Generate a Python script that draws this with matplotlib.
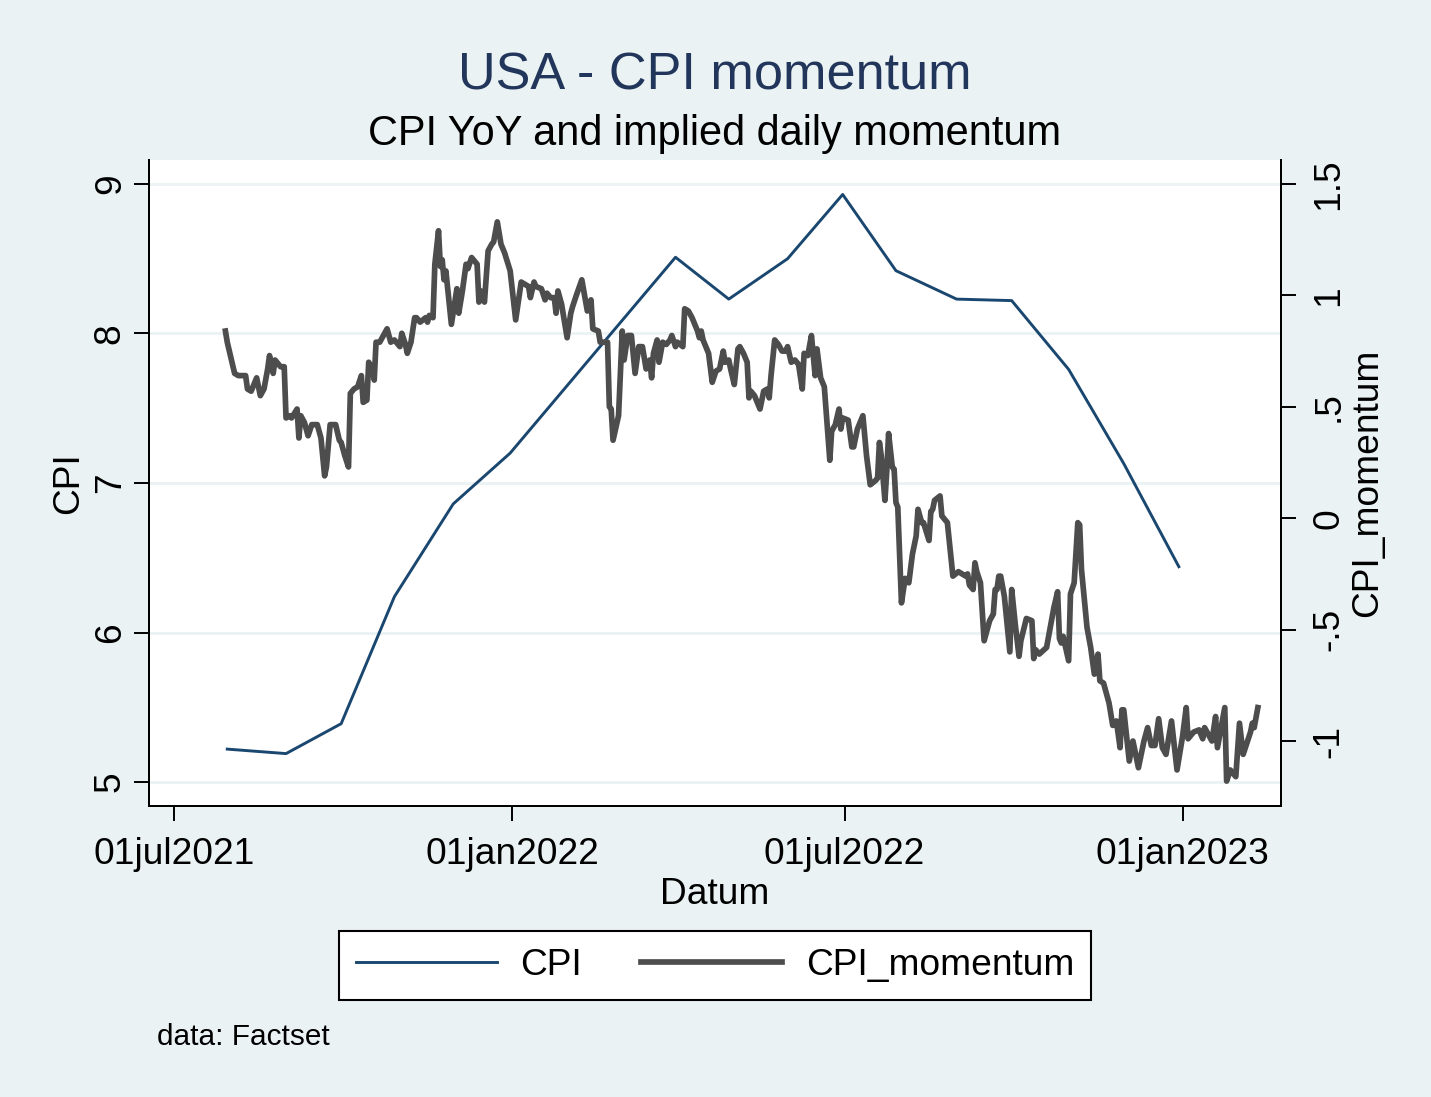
import datetime as dt

import matplotlib.pyplot as plt
import pandas as pd
from matplotlib.lines import Line2D

# Data
cpi_dates = ['2021-07-30', '2021-08-31', '2021-09-30', '2021-10-29', '2021-11-30',
             '2021-12-31', '2022-03-31', '2022-04-29', '2022-05-31', '2022-06-30',
             '2022-07-29', '2022-08-31', '2022-09-30', '2022-10-31', '2022-11-30',
             '2022-12-30']
cpi_values = [5.22, 5.19, 5.39, 6.24, 6.86, 7.20, 8.51, 8.23, 8.50, 8.93,
              8.42, 8.23, 8.22, 7.76, 7.13, 6.44]

mom_dates = [
    '2021-07-29', '2021-07-30', '2021-08-01', '2021-08-03', '2021-08-05', '2021-08-09',
    '2021-08-10', '2021-08-12', '2021-08-13', '2021-08-15', '2021-08-17', '2021-08-19',
    '2021-08-21', '2021-08-22', '2021-08-24', '2021-08-25', '2021-08-27', '2021-08-28',
    '2021-08-30', '2021-08-31', '2021-09-02', '2021-09-03', '2021-09-06', '2021-09-07',
    '2021-09-08', '2021-09-10', '2021-09-12', '2021-09-14', '2021-09-17', '2021-09-19',
    '2021-09-21', '2021-09-22', '2021-09-24', '2021-09-27', '2021-09-29', '2021-09-30',
    '2021-10-02', '2021-10-04', '2021-10-05', '2021-10-07', '2021-10-09', '2021-10-11',
    '2021-10-12', '2021-10-14', '2021-10-15', '2021-10-17', '2021-10-18', '2021-10-19',
    '2021-10-21', '2021-10-25', '2021-10-27', '2021-10-29', '2021-10-31', '2021-11-01',
    '2021-11-02', '2021-11-04', '2021-11-05', '2021-11-07', '2021-11-09', '2021-11-10',
    '2021-11-12', '2021-11-15', '2021-11-16', '2021-11-17', '2021-11-19', '2021-11-20',
    '2021-11-22', '2021-11-23', '2021-11-24', '2021-11-25', '2021-11-26', '2021-11-29',
    '2021-12-02', '2021-12-03', '2021-12-05', '2021-12-07', '2021-12-08', '2021-12-10',
    '2021-12-13', '2021-12-14', '2021-12-15', '2021-12-17', '2021-12-19', '2021-12-21',
    '2021-12-22', '2021-12-24', '2021-12-26', '2021-12-28', '2021-12-31',
    '2022-01-03', '2022-01-06', '2022-01-08', '2022-01-10', '2022-01-11', '2022-01-13',
    '2022-01-14', '2022-01-17', '2022-01-19', '2022-01-20', '2022-01-22', '2022-01-24',
    '2022-01-25', '2022-01-26', '2022-01-28', '2022-01-29', '2022-01-31', '2022-02-02',
    '2022-02-03', '2022-02-05', '2022-02-08', '2022-02-11', '2022-02-13', '2022-02-14',
    '2022-02-17', '2022-02-18', '2022-02-22', '2022-02-23', '2022-02-24', '2022-02-25',
    '2022-02-28', '2022-03-02', '2022-03-03', '2022-03-05', '2022-03-07', '2022-03-09',
    '2022-03-11', '2022-03-13', '2022-03-15', '2022-03-17', '2022-03-18', '2022-03-19',
    '2022-03-21', '2022-03-22', '2022-03-24', '2022-03-26', '2022-03-28', '2022-03-29',
    '2022-03-31', '2022-04-01', '2022-04-04', '2022-04-05', '2022-04-07', '2022-04-09',
    '2022-04-12', '2022-04-13', '2022-04-14', '2022-04-15', '2022-04-18', '2022-04-20',
    '2022-04-22', '2022-04-24', '2022-04-26', '2022-04-27', '2022-04-29', '2022-04-30',
    '2022-05-02', '2022-05-04', '2022-05-05', '2022-05-07', '2022-05-09', '2022-05-10',
    '2022-05-11', '2022-05-13', '2022-05-16', '2022-05-18', '2022-05-20', '2022-05-21',
    '2022-05-22', '2022-05-24', '2022-05-26', '2022-05-28', '2022-05-30', '2022-05-31',
    '2022-06-02', '2022-06-04', '2022-06-06', '2022-06-08', '2022-06-09', '2022-06-11',
    '2022-06-13', '2022-06-15', '2022-06-16', '2022-06-18', '2022-06-20', '2022-06-23',
    '2022-06-24', '2022-06-26', '2022-06-28', '2022-06-29', '2022-06-30', '2022-07-03',
    '2022-07-05', '2022-07-06', '2022-07-08', '2022-07-11', '2022-07-13', '2022-07-15',
    '2022-07-18', '2022-07-19', '2022-07-20', '2022-07-21', '2022-07-23', '2022-07-24',
    '2022-07-25', '2022-07-27', '2022-07-28', '2022-07-29', '2022-07-30', '2022-08-01',
    '2022-08-03', '2022-08-05', '2022-08-07', '2022-08-09', '2022-08-10', '2022-08-12',
    '2022-08-13', '2022-08-16', '2022-08-17', '2022-08-18', '2022-08-19', '2022-08-22',
    '2022-08-23', '2022-08-26', '2022-08-29', '2022-09-01', '2022-09-05', '2022-09-06',
    '2022-09-07', '2022-09-09', '2022-09-10', '2022-09-11', '2022-09-13', '2022-09-15',
    '2022-09-18', '2022-09-20', '2022-09-21', '2022-09-22', '2022-09-23', '2022-09-24',
    '2022-09-26', '2022-09-29', '2022-09-30', '2022-10-02', '2022-10-04', '2022-10-05',
    '2022-10-08', '2022-10-11', '2022-10-12', '2022-10-13', '2022-10-15', '2022-10-19',
    '2022-10-23', '2022-10-25', '2022-10-26', '2022-10-27', '2022-10-28', '2022-10-31',
    '2022-11-01', '2022-11-03', '2022-11-05', '2022-11-06', '2022-11-07', '2022-11-10',
    '2022-11-12', '2022-11-14', '2022-11-16', '2022-11-17', '2022-11-19', '2022-11-22',
    '2022-11-23', '2022-11-24', '2022-11-26', '2022-11-28', '2022-11-29', '2022-11-30',
    '2022-12-03', '2022-12-05', '2022-12-08', '2022-12-11', '2022-12-13', '2022-12-15',
    '2022-12-17', '2022-12-19', '2022-12-21', '2022-12-23', '2022-12-26', '2022-12-29',
    '2023-01-01', '2023-01-03', '2023-01-04', '2023-01-07', '2023-01-10', '2023-01-12',
    '2023-01-13', '2023-01-15', '2023-01-17', '2023-01-19', '2023-01-20', '2023-01-22',
    '2023-01-24', '2023-01-25', '2023-01-27', '2023-01-30', '2023-02-01', '2023-02-03',
    '2023-02-07', '2023-02-08', '2023-02-09', '2023-02-11',
]
mom_values = [
    0.84, 0.79, 0.72, 0.65, 0.64, 0.64,
    0.58, 0.57, 0.59, 0.63, 0.55, 0.58,
    0.67, 0.73, 0.65, 0.71, 0.69, 0.68,
    0.68, 0.45, 0.46, 0.45, 0.49, 0.36,
    0.46, 0.43, 0.37, 0.42, 0.42, 0.36,
    0.19, 0.23, 0.42, 0.42, 0.35, 0.34,
    0.28, 0.23, 0.56, 0.58, 0.59, 0.64,
    0.52, 0.53, 0.70, 0.67, 0.62, 0.79,
    0.79, 0.85, 0.79, 0.80, 0.78, 0.77,
    0.83, 0.78, 0.74, 0.79, 0.90, 0.90,
    0.88, 0.90, 0.88, 0.91, 0.90, 1.14,
    1.29, 1.13, 1.16, 1.07, 1.11, 0.87,
    1.03, 0.92, 1.02, 1.14, 1.12, 1.17,
    1.14, 0.97, 1.02, 0.97, 1.20, 1.23,
    1.24, 1.33, 1.23, 1.19, 1.11,
    0.89, 1.06, 1.05, 1.04, 0.99, 1.06,
    1.04, 1.03, 0.98, 1.01, 0.99, 0.99,
    0.92, 1.02, 0.96, 0.91, 0.81, 0.92,
    0.95, 1.00, 1.07, 0.93, 0.98, 0.85,
    0.84, 0.79, 0.79, 0.50, 0.49, 0.35,
    0.46, 0.84, 0.71, 0.82, 0.82, 0.65,
    0.77, 0.77, 0.67, 0.71, 0.63, 0.74,
    0.80, 0.70, 0.79, 0.78, 0.80, 0.82,
    0.77, 0.79, 0.77, 0.94, 0.93, 0.90,
    0.84, 0.81, 0.84, 0.80, 0.74, 0.61,
    0.66, 0.67, 0.75, 0.70, 0.71, 0.67,
    0.60, 0.76, 0.77, 0.74, 0.70, 0.54,
    0.57, 0.55, 0.49, 0.57, 0.58, 0.54,
    0.64, 0.80, 0.78, 0.75, 0.75, 0.77,
    0.70, 0.71, 0.69, 0.58, 0.74, 0.73,
    0.82, 0.64, 0.76, 0.63, 0.59, 0.26,
    0.39, 0.42, 0.49, 0.40, 0.45, 0.44,
    0.32, 0.32, 0.40, 0.46, 0.28, 0.15,
    0.17, 0.18, 0.34, 0.28, 0.08, 0.21,
    0.38, 0.23, 0.22, 0.07, 0.05, -0.38,
    -0.27, -0.29, -0.16, -0.08, 0.04, -0.02,
    -0.02, -0.10, 0.03, 0.04, 0.08, 0.10,
    0.01, -0.02, -0.26, -0.24, -0.26, -0.25,
    -0.30, -0.32, -0.20, -0.24, -0.29, -0.55,
    -0.46, -0.43, -0.32, -0.32, -0.26, -0.26,
    -0.35, -0.60, -0.32, -0.48, -0.62, -0.55,
    -0.45, -0.46, -0.63, -0.59, -0.61, -0.58,
    -0.40, -0.33, -0.54, -0.56, -0.53, -0.64,
    -0.34, -0.29, -0.02, -0.03, -0.23, -0.49,
    -0.58, -0.70, -0.61, -0.73, -0.74, -0.83,
    -0.88, -0.93, -0.91, -1.03, -0.86, -0.86,
    -1.09, -1.00, -1.12, -1.00, -0.94, -1.02,
    -1.02, -0.90, -1.03, -1.06, -0.91, -1.13,
    -0.98, -0.85, -0.99, -0.96, -0.95, -0.99,
    -0.94, -0.97, -1.00, -0.89, -1.03, -0.94,
    -0.85, -1.18, -1.13, -1.16, -0.92, -1.06,
    -0.96, -0.92, -0.94, -0.85,
]

x_ticks = ['2021-07-01', '2022-01-01', '2022-07-01', '2023-01-01']
x_tick_labels = ['01jul2021', '01jan2022', '01jul2022', '01jan2023']
cpi_ticks = [5, 6, 7, 8, 9]
cpi_tick_labels = ['5', '6', '7', '8', '9']
mom_ticks = [-1, -0.5, 0, 0.5, 1, 1.5]
mom_tick_labels = ['-1', '-.5', '0', '.5', '1', '1.5']

BG = '#EAF2F3'
NAVY = '#1A476F'
GREY = '#4D4D4D'


def main():
    plt.rcParams['font.family'] = ['Liberation Sans', 'DejaVu Sans']

    fig = plt.figure(figsize=(14.31, 10.97), dpi=100, facecolor=BG)
    ax = fig.add_axes([149 / 1431, 1 - 806 / 1097, 1132 / 1431, 646 / 1097])
    ax.set_facecolor('white')

    # CPI (venstre akse)
    ax.plot(pd.to_datetime(cpi_dates), cpi_values, color=NAVY, lw=2.1,
            solid_joinstyle='round', zorder=3)

    # momentum (høyre akse)
    ax2 = ax.twinx()
    ax2.plot(pd.to_datetime(mom_dates), mom_values, color=GREY, lw=4.1,
             solid_joinstyle='round', zorder=3)

    # akser
    start = dt.datetime(2021, 7, 1)
    ax.set_xlim(start - dt.timedelta(days=13.6), start + dt.timedelta(days=602.6))
    ax.set_ylim(4.8395, 9.1605)
    ax2.set_ylim(-1.2917, 1.6077)

    ax.set_xticks(pd.to_datetime(x_ticks), x_tick_labels)
    ax.set_yticks(cpi_ticks, cpi_tick_labels, rotation=90, va='center')
    ax2.set_yticks(mom_ticks, mom_tick_labels, rotation=90, va='center')

    ax.tick_params(axis='x', length=10.5, width=1.4, pad=11.9, labelsize=26.7)
    ax.tick_params(axis='y', length=10.6, width=1.4, pad=4.7, labelsize=26.7)
    ax2.tick_params(axis='y', length=10.6, width=1.4, pad=11.4, labelsize=26.7)

    ax.yaxis.grid(True, color=BG, lw=2)
    ax.set_axisbelow(True)

    for a in (ax, ax2):
        a.spines['top'].set_visible(False)
        for s in ('left', 'right', 'bottom'):
            a.spines[s].set_linewidth(1.4)
            a.spines[s].set_color('black')

    ax.set_xlabel('Datum', fontsize=26.7)
    ax.xaxis.set_label_coords(0.5, -0.1099)
    ax.set_ylabel('CPI', fontsize=26.7)
    ax.yaxis.set_label_coords(-0.0556, 0.5)
    ax2.set_ylabel('CPI_momentum', fontsize=26.7)
    ax2.yaxis.set_label_coords(1.061, 0.5)

    # titler
    fig.text(715 / 1431, 1 - 89.3 / 1097, 'USA - CPI momentum', ha='center',
             va='baseline', fontsize=37.6, color='#22365C')
    fig.text(715 / 1431, 1 - 145 / 1097, 'CPI YoY and implied daily momentum',
             ha='center', va='baseline', fontsize=29.9, color='black')
    fig.text(157 / 1431, 1 - 1045 / 1097, 'data: Factset', ha='left',
             va='baseline', fontsize=21.4)

    # legend
    handles = [Line2D([], [], color=NAVY, lw=2.1),
               Line2D([], [], color=GREY, lw=4.1)]
    leg = fig.legend(handles, ['CPI', 'CPI_momentum'], loc='center',
                     bbox_to_anchor=(715 / 1431, 1 - 965.5 / 1097), ncol=2,
                     fontsize=26.7, frameon=True, fancybox=False,
                     edgecolor='black', framealpha=1, handlelength=3.8,
                     handletextpad=0.64, columnspacing=1.6, borderpad=0.45)
    leg.get_frame().set_linewidth(1.5)

    fig.savefig('out.png', dpi=100, facecolor=fig.get_facecolor())


if __name__ == "__main__":
    main()
